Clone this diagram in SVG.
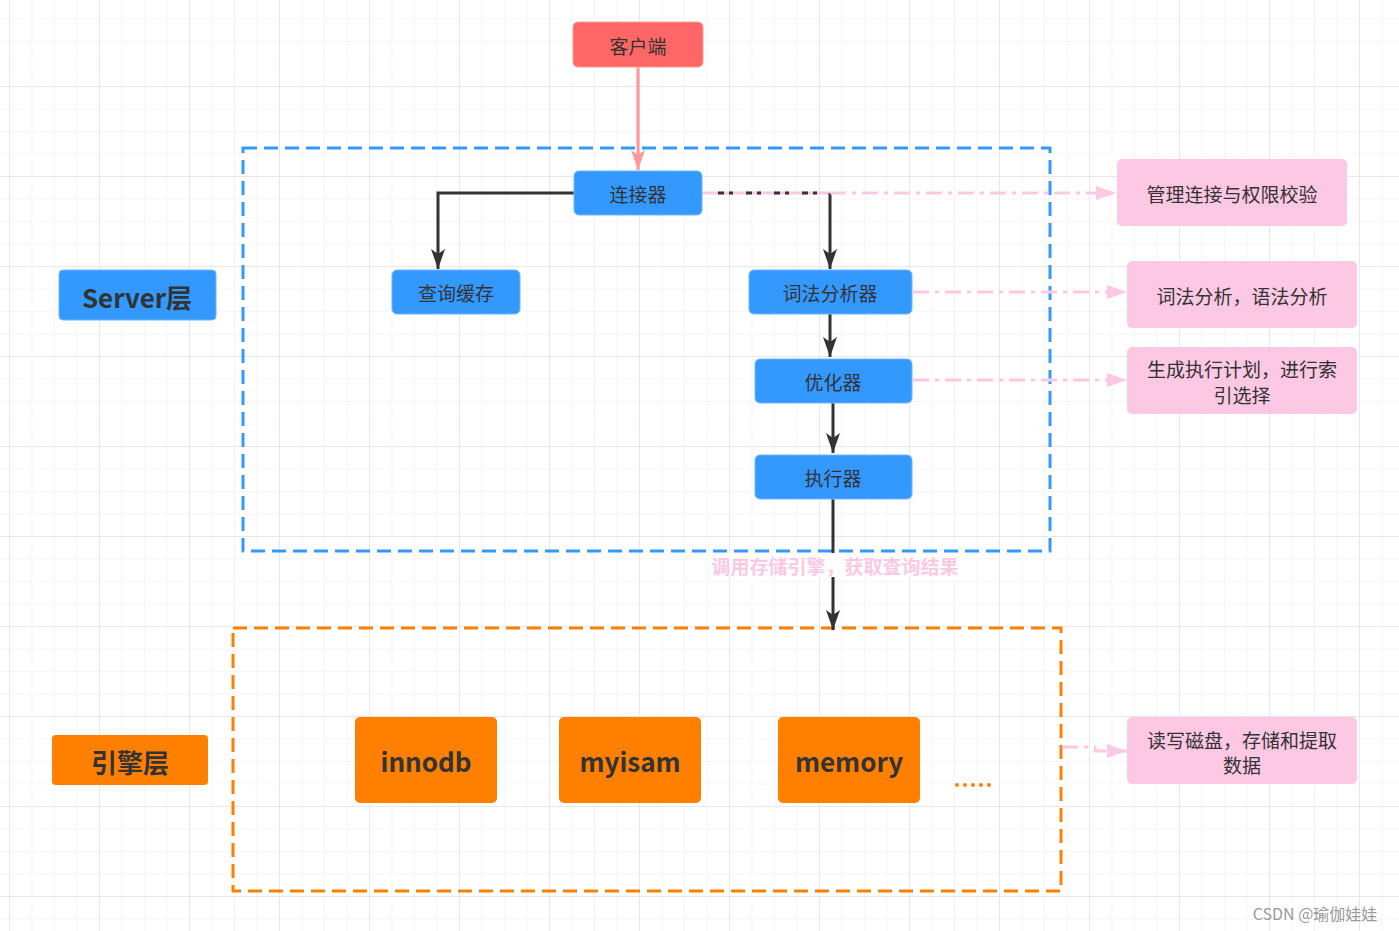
<svg xmlns="http://www.w3.org/2000/svg" width="1399" height="931" viewBox="0 0 1399 931">
<defs>
<pattern id="gm" x="9" y="86" width="22.5" height="22.5" patternUnits="userSpaceOnUse"><path d="M0 0H22.5M0 0V22.5" stroke="#eeeeee" stroke-width="1" fill="none"/></pattern>
<pattern id="gM" x="9" y="86" width="90" height="90" patternUnits="userSpaceOnUse"><path d="M0 0H90M0 0V90" stroke="#e3e3e3" stroke-width="1.5" fill="none"/></pattern>
<marker id="ak" markerWidth="14" markerHeight="20" refX="7" refY="20" orient="0" markerUnits="userSpaceOnUse"><path d="M0 0L7 20L14 0L7 5Z" fill="#333"/></marker>
<marker id="ar" markerWidth="14" markerHeight="20" refX="7" refY="20" orient="0" markerUnits="userSpaceOnUse"><path d="M0 0L7 20L14 0L7 5Z" fill="#ff9999"/></marker>
<marker id="ap" markerWidth="20" markerHeight="14" refX="20" refY="7" orient="auto" markerUnits="userSpaceOnUse"><path d="M0 0L20 7L0 14Z" fill="#fdc8e3"/></marker>
</defs>
<style>
text{font-family:"Noto Sans CJK SC","Noto Sans",sans-serif;text-anchor:middle;dominant-baseline:central}
.b rect{fill:#3399ff;stroke:#6fb6ff}
.b text{font-size:19px;fill:#333}
.p rect{fill:#fdc8e3}
.p text{font-size:19px;fill:#333}
.o rect{fill:#ff8000}
.o text{font-size:26px;font-weight:bold;fill:#333}
.k{stroke:#333;stroke-width:3;fill:none}
.pd{stroke:#fdc8e3;stroke-width:3;fill:none;stroke-dasharray:16 6 4 6}
</style>
<rect width="1399" height="931" fill="#fff"/>
<rect width="1399" height="931" fill="url(#gm)"/>
<rect width="1399" height="931" fill="url(#gM)"/>
<rect x="243" y="148" width="807" height="403" fill="none" stroke="#3399ff" stroke-width="3" stroke-dasharray="14 7"/>
<rect x="233" y="628" width="828" height="263" fill="none" stroke="#ff8000" stroke-width="3" stroke-dasharray="14 7"/>
<g id="connectors">
<path d="M638 67V170" stroke="#ff9999" stroke-width="3" marker-end="url(#ar)"/>
<path class="k" d="M574 193H438V269" marker-end="url(#ak)"/>
<path d="M702 193H830" stroke="#fdc8e3" stroke-width="3"/>
<path d="M718 193H830" stroke="#333" stroke-width="3" stroke-dasharray="6 5 4 13"/>
<path class="k" d="M830 193V269" marker-end="url(#ak)"/>
<path class="pd" d="M830 193H1116" marker-end="url(#ap)"/>
<path class="k" d="M830 314V357" marker-end="url(#ak)"/>
<path class="k" d="M833 403V453" marker-end="url(#ak)"/>
<path class="k" d="M833 499V630" marker-end="url(#ak)"/>
<path class="pd" d="M913 292H1127" marker-end="url(#ap)"/>
<path class="pd" d="M913 380H1127" marker-end="url(#ap)"/>
<path class="pd" d="M1062 747H1095V751H1127" marker-end="url(#ap)"/>
<path d="M957 785H997" stroke="#ff8000" stroke-width="4" stroke-dasharray="0 8" stroke-linecap="round"/>
<rect x="708" y="553" width="254" height="24" fill="#fff"/>
<text x="835" y="565" font-size="19" font-weight="bold" fill="#fdc8e3">调用存储引擎，获取查询结果</text>
</g>
<g id="client"><rect x="573" y="22" width="130" height="45" rx="5" fill="#ff6666" stroke="#ff9999"/><text x="638" y="45" font-size="19" fill="#333">客户端</text></g>
<g id="server" class="b"><rect x="59" y="270" width="157" height="50" rx="4"/><text x="137" y="296" style="font-size:26px;font-weight:bold">Server层</text></g>
<g id="conn" class="b"><rect x="574" y="171" width="128" height="44" rx="5"/><text x="638" y="193">连接器</text></g>
<g id="cache" class="b"><rect x="392" y="270" width="128" height="44" rx="5"/><text x="456" y="292">查询缓存</text></g>
<g id="lex" class="b"><rect x="749" y="270" width="163" height="44" rx="5"/><text x="830" y="292">词法分析器</text></g>
<g id="opt" class="b"><rect x="755" y="359" width="157" height="44" rx="5"/><text x="833" y="381">优化器</text></g>
<g id="exec" class="b"><rect x="755" y="455" width="157" height="44" rx="5"/><text x="833" y="477">执行器</text></g>
<g id="n1" class="p"><rect x="1117" y="159" width="230" height="67" rx="5"/><text x="1232" y="193">管理连接与权限校验</text></g>
<g id="n2" class="p"><rect x="1127" y="261" width="230" height="67" rx="5"/><text x="1242" y="295">词法分析，语法分析</text></g>
<g id="n3" class="p"><rect x="1127" y="347" width="230" height="67" rx="5"/><text x="1242" y="368">生成执行计划，进行索</text><text x="1242" y="394">引选择</text></g>
<g id="n4" class="p"><rect x="1127" y="717" width="230" height="67" rx="5"/><text x="1242" y="739">读写磁盘，存储和提取</text><text x="1242" y="764">数据</text></g>
<g id="engine" class="o"><rect x="52" y="735" width="156" height="50" rx="4"/><text x="130" y="761">引擎层</text></g>
<g id="innodb" class="o"><rect x="355" y="717" width="142" height="86" rx="5"/><text x="426" y="760">innodb</text></g>
<g id="myisam" class="o"><rect x="559" y="717" width="142" height="86" rx="5"/><text x="630" y="760">myisam</text></g>
<g id="memory" class="o"><rect x="778" y="717" width="142" height="86" rx="5"/><text x="849" y="760">memory</text></g>
<text x="1315" y="913" font-size="16" fill="#999">CSDN @瑜伽娃娃</text>
</svg>
